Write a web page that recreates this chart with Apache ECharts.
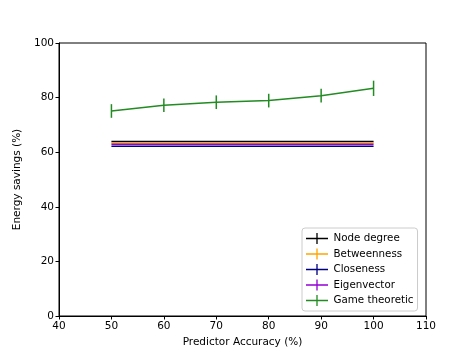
<!DOCTYPE html>
<html>
<head>
<meta charset="utf-8">
<script src="https://cdn.jsdelivr.net/npm/echarts@6/dist/echarts.min.js"></script>
<style>html,body{margin:0;padding:0;background:#fff;}#c{width:474px;height:355px;}</style>
</head>
<body>
<div id="c"></div>
<script>
var accuracy = [50, 60, 70, 80, 90, 100];
var nodeDegree = [63.9, 63.9, 63.9, 63.9, 63.9, 63.9];
var betweenness = [63.4, 63.4, 63.4, 63.4, 63.4, 63.4];
var closeness = [62.2, 62.2, 62.2, 62.2, 62.2, 62.2];
var eigenvector = [62.9, 62.9, 62.9, 62.9, 62.9, 62.9];
var gameTheoretic = [75.1, 77.2, 78.3, 78.9, 80.7, 83.4];
var gameErr = [2.5, 2.5, 2.5, 2.5, 2.5, 2.8];
var xTicks = [40, 50, 60, 70, 80, 90, 100, 110];
var yTicks = [0, 20, 40, 60, 80, 100];

var names = ['Node degree', 'Betweenness', 'Closeness', 'Eigenvector', 'Game theoretic'];
var colors = ['#000000', '#ffa500', '#000080', '#9400d3', '#228b22'];
var datasets = [nodeDegree, betweenness, closeness, eigenvector, gameTheoretic];
var font = 'DejaVu Sans';
var icon = 'path://M0,4.4h20v1.2h-20z M9.4,0h1.2v10h-1.2z';

function pairs(arr) { return accuracy.map(function (x, i) { return [x, arr[i]]; }); }

var series = [];
[0, 1, 2, 3, 4].forEach(function (k) {
  series.push({
    name: names[k], type: 'line', data: pairs(datasets[k]),
    symbol: 'none', lineStyle: { color: colors[k], width: 1.5 }, itemStyle: { color: colors[k] },
    z: 2 + k, animation: false
  });
});
series.push({
  name: 'Game theoretic', type: 'custom', z: 10, animation: false,
  data: accuracy.map(function (x, i) { return [x, gameTheoretic[i], gameErr[i]]; }),
  renderItem: function (params, api) {
    var x = api.value(0), y = api.value(1), e = api.value(2);
    var p1 = api.coord([x, y - e]), p2 = api.coord([x, y + e]);
    return { type: 'line', shape: { x1: p1[0], y1: p1[1], x2: p2[0], y2: p2[1] },
      style: { stroke: colors[4], lineWidth: 1.5 } };
  }
});

var chart = echarts.init(document.getElementById('c'), null, { renderer: 'canvas' });
chart.setOption({
  animation: false,
  backgroundColor: '#fff',
  grid: { left: 59, right: 48, top: 43, bottom: 39, show: true, borderColor: '#000', borderWidth: 1, backgroundColor: 'transparent' },
  xAxis: {
    type: 'value', min: 40, max: 110, interval: 10,
    name: 'Predictor Accuracy (%)', nameLocation: 'middle', nameGap: 20,
    nameTextStyle: { fontFamily: font, fontSize: 10.5, color: '#000' },
    axisLine: { show: true, lineStyle: { color: '#000', width: 1 } },
    axisTick: { show: true, length: 3.5, lineStyle: { color: '#000' } },
    axisLabel: { fontFamily: font, fontSize: 10.5, color: '#000', margin: 5 },
    splitLine: { show: false }
  },
  yAxis: {
    type: 'value', min: 0, max: 100, interval: 20,
    name: 'Energy savings (%)', nameLocation: 'middle', nameGap: 33, nameRotate: 90,
    nameTextStyle: { fontFamily: font, fontSize: 10.5, color: '#000' },
    axisLine: { show: true, lineStyle: { color: '#000', width: 1 } },
    axisTick: { show: true, length: 3.5, lineStyle: { color: '#000' } },
    axisLabel: { fontFamily: font, fontSize: 10.5, color: '#000', margin: 5 },
    splitLine: { show: false }
  },
  legend: {
    data: names.map(function (n, i) { return { name: n, icon: icon, itemStyle: { color: colors[i] } }; }),
    orient: 'vertical', left: 302, top: 228,
    itemWidth: 23, itemHeight: 11, itemGap: 4.5, itemTextGap: 11, padding: [5, 4, 5, 4],
    backgroundColor: 'rgba(255,255,255,0.8)', borderColor: '#cccccc', borderWidth: 1, borderRadius: 3,
    textStyle: { fontFamily: font, fontSize: 10.3, color: '#000' },
    selectedMode: false
  },
  series: series
});
</script>
</body>
</html>
